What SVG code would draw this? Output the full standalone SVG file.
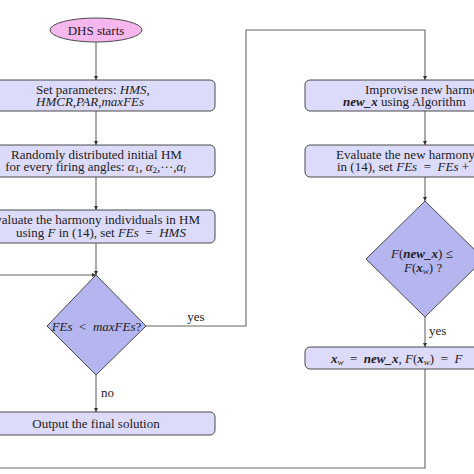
<svg xmlns="http://www.w3.org/2000/svg" width="474" height="474" viewBox="0 0 474 474">
<defs>
<style>
.box{fill:#dcdbfa;stroke:#4a4a4a;stroke-width:1}
.dia{fill:#b5b5f0;stroke:#4a4a4a;stroke-width:1}
.start{fill:#f6b6ee;stroke:#4a4a4a;stroke-width:1}
.con{fill:none;stroke:#666;stroke-width:1.1}
text{font-family:"Liberation Serif","DejaVu Serif",serif;font-size:13px;fill:#222}
.i{font-style:italic}
.b{font-style:italic;font-weight:bold}
.s{font-size:9px}
</style>
<marker id="ah" viewBox="0 0 6 6" refX="6" refY="3" markerWidth="4" markerHeight="4" orient="auto" markerUnits="userSpaceOnUse">
<path d="M0,0 L6,3 L0,6 Z" fill="#333"/>
</marker>
</defs>
<rect width="474" height="474" fill="#fff"/>

<g id="connectors">
<path class="con" d="M96,42 V80" marker-end="url(#ah)"/>
<path class="con" d="M96,111 V145" marker-end="url(#ah)"/>
<path class="con" d="M96,177 V210" marker-end="url(#ah)"/>
<path class="con" d="M96,243 V275" marker-end="url(#ah)"/>
<path class="con" d="M425,369 V468 H-10 V275 H96" marker-end="url(#ah)"/>
<path class="con" d="M146,326 H246 V30 H425 V80" marker-end="url(#ah)"/>
<path class="con" d="M96,375 V412" marker-end="url(#ah)"/>
<path class="con" d="M425,111 V145" marker-end="url(#ah)"/>
<path class="con" d="M425,177 V201" marker-end="url(#ah)"/>
<path class="con" d="M425,317 V347" marker-end="url(#ah)"/>
<text x="196" y="321" text-anchor="middle">yes</text>
<text x="101" y="397">no</text>
<text x="429" y="335">yes</text>
</g>

<g id="start">
<ellipse class="start" cx="96" cy="30" rx="46" ry="12"/>
<text x="96" y="34.5" text-anchor="middle">DHS starts</text>
</g>

<g id="set-params">
<rect class="box" x="-23" y="80" width="238" height="31" rx="5"/>
<text x="36" y="93.5">Set parameters: <tspan class="i">HMS</tspan>,</text>
<text x="36" y="105.5" class="i">HMCR,PAR,maxFEs</text>
</g>

<g id="init-hm">
<rect class="box" x="-23" y="145" width="238" height="32" rx="5"/>
<text x="96.5" y="158.5" text-anchor="middle">Randomly distributed initial HM</text>
<text x="95.5" y="170.5" text-anchor="middle">for every firing angles: <tspan class="i">α</tspan><tspan class="s" dy="2">1</tspan><tspan dy="-2">, </tspan><tspan class="i">α</tspan><tspan class="s" dy="2">2</tspan><tspan dy="-2">,···,</tspan><tspan class="i">α</tspan><tspan class="s i" dy="2">l</tspan></text>
</g>

<g id="eval-hm">
<rect class="box" x="-23" y="210" width="238" height="33" rx="5"/>
<text x="200" y="223.5" text-anchor="end">Evaluate the harmony individuals in HM</text>
<text x="101" y="236.5" text-anchor="middle" xml:space="preserve">using <tspan class="i">F</tspan> in (14), set <tspan class="i">FEs</tspan>  =  <tspan class="i">HMS</tspan></text>
</g>

<g id="check-fes">
<polygon class="dia" points="96,275 146,326 96,375 47,326"/>
<text x="96.5" y="330.5" text-anchor="middle" xml:space="preserve"><tspan class="i">FEs</tspan>  &lt;  <tspan class="i">maxFEs</tspan>?</text>
</g>

<g id="output">
<rect class="box" x="-23" y="412" width="238" height="23" rx="5"/>
<text x="96" y="428" text-anchor="middle">Output the final solution</text>
</g>

<g id="improvise">
<rect class="box" x="305" y="80" width="240" height="31" rx="5"/>
<text x="365" y="93.5">Improvise new harmony</text>
<text x="343" y="105.5"><tspan class="b">new_x</tspan> using Algorithm</text>
</g>

<g id="eval-new">
<rect class="box" x="305" y="145" width="240" height="32" rx="5"/>
<text x="336" y="158.5">Evaluate the new harmony</text>
<text x="337" y="170.5" xml:space="preserve">in (14), set <tspan class="i">FEs</tspan>  =  <tspan class="i">FEs</tspan> +</text>
</g>

<g id="compare">
<polygon class="dia" points="425,201 484,259 425,317 366,259"/>
<text x="391" y="257.5"><tspan class="i">F</tspan>(<tspan class="b">new_x</tspan>) ≤</text>
<text x="404" y="271.5"><tspan class="i">F</tspan>(<tspan class="b">x</tspan><tspan class="s i" dy="2">w</tspan><tspan dy="-2">) ?</tspan></text>
</g>

<g id="update">
<rect class="box" x="305" y="347" width="240" height="22" rx="5"/>
<text x="331" y="362.5" xml:space="preserve"><tspan class="b">x</tspan><tspan class="s i" dy="2">w</tspan><tspan dy="-2">  =  </tspan><tspan class="b">new_x</tspan>, <tspan class="i">F</tspan>(<tspan class="b">x</tspan><tspan class="s i" dy="2">w</tspan><tspan dy="-2">)  =  </tspan><tspan class="i">F</tspan></text>
</g>
</svg>
